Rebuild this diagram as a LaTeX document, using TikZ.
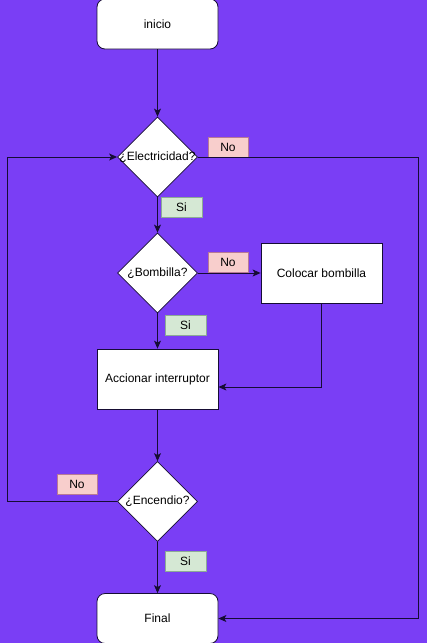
\documentclass[tikz,border=0pt]{standalone}
\usepackage{fontspec}
\setmainfont{Liberation Sans}
\usetikzlibrary{shapes.geometric,arrows.meta}
\definecolor{bgpurple}{RGB}{122,62,245}
\definecolor{linec}{RGB}{22,12,52}
\definecolor{nofill}{RGB}{248,206,204}
\definecolor{noline}{RGB}{184,120,150}
\definecolor{sifill}{RGB}{213,232,212}
\definecolor{siline}{RGB}{140,170,150}
\tikzset{
  term/.style={draw=linec, fill=white, rounded corners=8pt, minimum width=121pt, minimum height=50pt, inner sep=0pt, font=\fontsize{12}{14}\selectfont, line width=0.8pt},
  proc/.style={draw=linec, fill=white, minimum width=121pt, minimum height=60pt, inner sep=0pt, font=\fontsize{12}{14}\selectfont, line width=0.8pt},
  dia/.style={draw=linec, fill=white, diamond, shape aspect=1, minimum width=80pt, minimum height=80pt, inner sep=0pt, line width=0.8pt},
  diatext/.style={inner sep=0pt, font=\fontsize{12}{14}\selectfont},
  nolab/.style={draw=noline, fill=nofill, minimum width=40pt, minimum height=20pt, inner sep=0pt, font=\fontsize{12}{14}\selectfont},
  silab/.style={draw=siline, fill=sifill, minimum width=41pt, minimum height=20pt, inner sep=0pt, font=\fontsize{12}{14}\selectfont},
  arr/.style={draw=linec, line width=0.9pt, -{Stealth[length=8pt,width=7pt,inset=2pt]}},
}
\begin{document}
\begin{tikzpicture}[x=1pt,y=-1pt]
\fill[bgpurple] (0,0) rectangle (427,643);
\useasboundingbox (0,0) rectangle (427,643);
% nodes
\node[term] (inicio) at (157.5,24) {inicio};
\node[dia] (elec) at (157.5,157) {};
\node[diatext] (elect) at (elec) {¿Electricidad?};
\node[dia] (bomb) at (157.5,273) {};
\node[diatext] (bombt) at (bomb) {¿Bombilla?};
\node[proc] (coloc) at (321.5,273) {Colocar bombilla};
\node[proc] (accion) at (157.5,379) {Accionar interruptor};
\node[dia] (enc) at (157.5,501.5) {};
\node[diatext] (enct) at (enc) {¿Encendio?};
\node[term] (final) at (157.5,618.5) {Final};
% labels
\node[nolab] (no1) at (228,147) {No};
\node[silab] (si1) at (181.5,207.5) {Si};
\node[nolab] (no2) at (228,262.5) {No};
\node[silab] (si2) at (185.5,325) {Si};
\node[nolab] (no3) at (77,484) {No};
\node[silab] (si3) at (185.5,561.5) {Si};
% coordinates
\coordinate (c1) at (418.5,157);
\coordinate (c2) at (418.5,618.5);
\coordinate (c3) at (321.5,387);
\coordinate (c4) at (7.5,501.5);
\coordinate (c5) at (7.5,157);
% connectors
\draw[arr] (inicio) -- (elec);
\draw[arr] (elec.east) -- (c1) -- (c2) -- (final.east);
\draw[arr] (elec) -- (bomb);
\draw[arr] (bomb) -- (coloc);
\draw[arr] (bomb) -- (accion);
\draw[arr] (coloc.south) -- (c3) -- (accion.east |- c3);
\draw[arr] (accion) -- (enc);
\draw[arr] (enc) -- (final);
\draw[arr] (enc.west) -- (c4) -- (c5) -- (elec.west);
\end{tikzpicture}
\end{document}
